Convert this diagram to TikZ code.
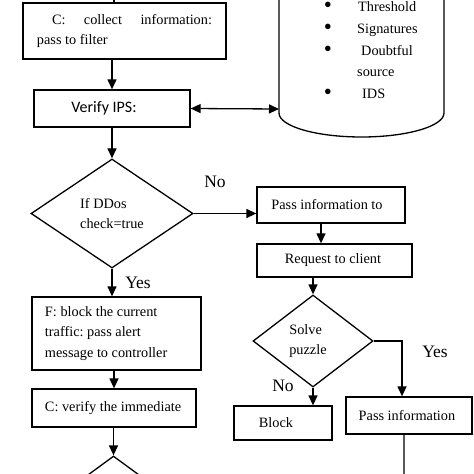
\documentclass[tikz,border=0pt]{standalone}
\usepackage{fontspec}
\setmainfont{Liberation Serif}
\newfontfamily\carlito{Carlito}
\usetikzlibrary{shapes.geometric,arrows.meta}
\newcommand\tnr{\fontsize{14.3bp}{20.5bp}\selectfont\frenchspacing}
\newcommand\lbl{\fontsize{17.5bp}{20bp}\selectfont}
\tikzset{
  box/.style={draw, line width=1.3bp, inner sep=0pt, font=\tnr, align=center},
  dia/.style={draw, diamond, line width=1.3bp, inner sep=0pt, font=\tnr, align=left},
  conn/.style={line width=1.3bp},
  arr/.style={line width=1.3bp, -{Triangle[length=10bp,width=9bp]}},
  darr/.style={line width=1.3bp, {Triangle[length=10bp,width=9bp]}-{Triangle[length=10bp,width=9bp]}},
  yn/.style={font=\lbl, inner sep=0pt},
  item/.style={font=\tnr, inner sep=0pt, anchor=base west},
  bul/.style={font=\fontsize{23bp}{24bp}\selectfont, inner sep=0pt, anchor=center}
}
\begin{document}
\begin{tikzpicture}[x=1bp,y=-1bp]
\useasboundingbox (0,0) rectangle (474,474);
\clip (0,0) rectangle (474,474);
% cylinder
\draw[line width=1.3bp] (279,-20) -- (279,113)
  .. controls (279,126.25) and (315.94,137) .. (361.5,137)
  .. controls (407.06,137) and (444,126.25) .. (444,113) -- (444,-20);
\coordinate (cylL) at (279,109);
\node[bul] (b1) at (328,7) {\textbullet};
\node[bul] (b2) at (328,29) {\textbullet};
\node[bul] (b3) at (328,51) {\textbullet};
\node[bul] (b4) at (328,94) {\textbullet};
\node[item] (t1) at (358,12) {Threshold};
\node[item] (t2) at (357,34) {Signatures};
\node[item] (t3) at (361,56) {Doubtful};
\node[item] (t4) at (357,77) {source};
\node[item] (t5) at (362,99) {IDS};
% left column
\node[box, minimum width=203bp, minimum height=56bp] (cbox) at (124.5,31)
  {\makebox[175bp][l]{\hspace*{15bp}\makebox[160bp][s]{C: collect information:}}\\\makebox[175bp][l]{pass to filter}};
\node[box, minimum width=156bp, minimum height=37bp, font=\carlito\fontsize{16bp}{18bp}\selectfont] (verify) at (112,108.5) {Verify IPS:\hspace*{16bp}};
\node[dia, minimum width=162bp, minimum height=109bp] (ddos) at (112,213.5) {If DDos\\check=true};
\node[box, minimum width=169bp, minimum height=73bp] (fbox) at (116.5,333.5)
  {\makebox[143bp][l]{F: block the current}\\\makebox[143bp][l]{traffic: pass alert}\\\makebox[143bp][l]{message to controller}};
\node[box, minimum width=164bp, minimum height=38bp] (cver) at (114,408) {\makebox[138bp][l]{C: verify the immediate}};
\node[dia, minimum width=150bp, minimum height=110bp] (ddos2) at (113.5,511) {};
% right column
\node[box, minimum width=148bp, minimum height=36bp] (pass1) at (331,205) {Pass information to\hspace*{8bp}};
\node[box, minimum width=155bp, minimum height=33bp] (req) at (334.5,260.5) {Request to client\hspace*{3bp}};
\node[dia, minimum width=120bp, minimum height=92bp] (puz) at (313,341) {Solve\\puzzle\hspace*{10bp}};
\node[box, minimum width=98bp, minimum height=34bp] (block) at (283,423) {Block\hspace*{14bp}};
\node[box, minimum width=126bp, minimum height=37bp] (pass2) at (409,415.5) {Pass information\hspace*{4bp}};
\coordinate (topin) at (114,-5);
\coordinate (botout) at (404,480);
% connectors
\draw[conn] (topin) -- (topin |- cbox.north);
\draw[arr] (cbox.south -| verify.north) -- (verify.north);
\draw[darr] (verify.east) -- (cylL);
\draw[arr] (verify.south) -- (ddos.north);
\draw[arr] (ddos.east) -- (ddos.east -| pass1.west);
\draw[arr] (ddos.south) -- (ddos.south |- fbox.north);
\draw[arr] (cver.north |- fbox.south) -- (cver.north);
\draw[arr] (cver.south -| ddos2.north) -- (ddos2.north);
\draw[arr] ([xshift=-10bp]pass1.south) -- ([xshift=-10bp]pass1.south |- req.north);
\draw[arr] (puz.north |- req.south) -- (puz.north);
\draw[arr] (puz.south) -- (puz.south |- block.north);
\draw[arr] (puz.east) -| ([xshift=-7bp]pass2.north);
\draw[conn] ([xshift=-5bp]pass2.south) -- (botout);
% labels
\node[yn] (no1) at (215,182) {No};
\node[yn] (yes1) at (138,283) {Yes};
\node[yn] (no2) at (283,386) {No};
\node[yn] (yes2) at (435,352) {Yes};
\end{tikzpicture}
\end{document}
